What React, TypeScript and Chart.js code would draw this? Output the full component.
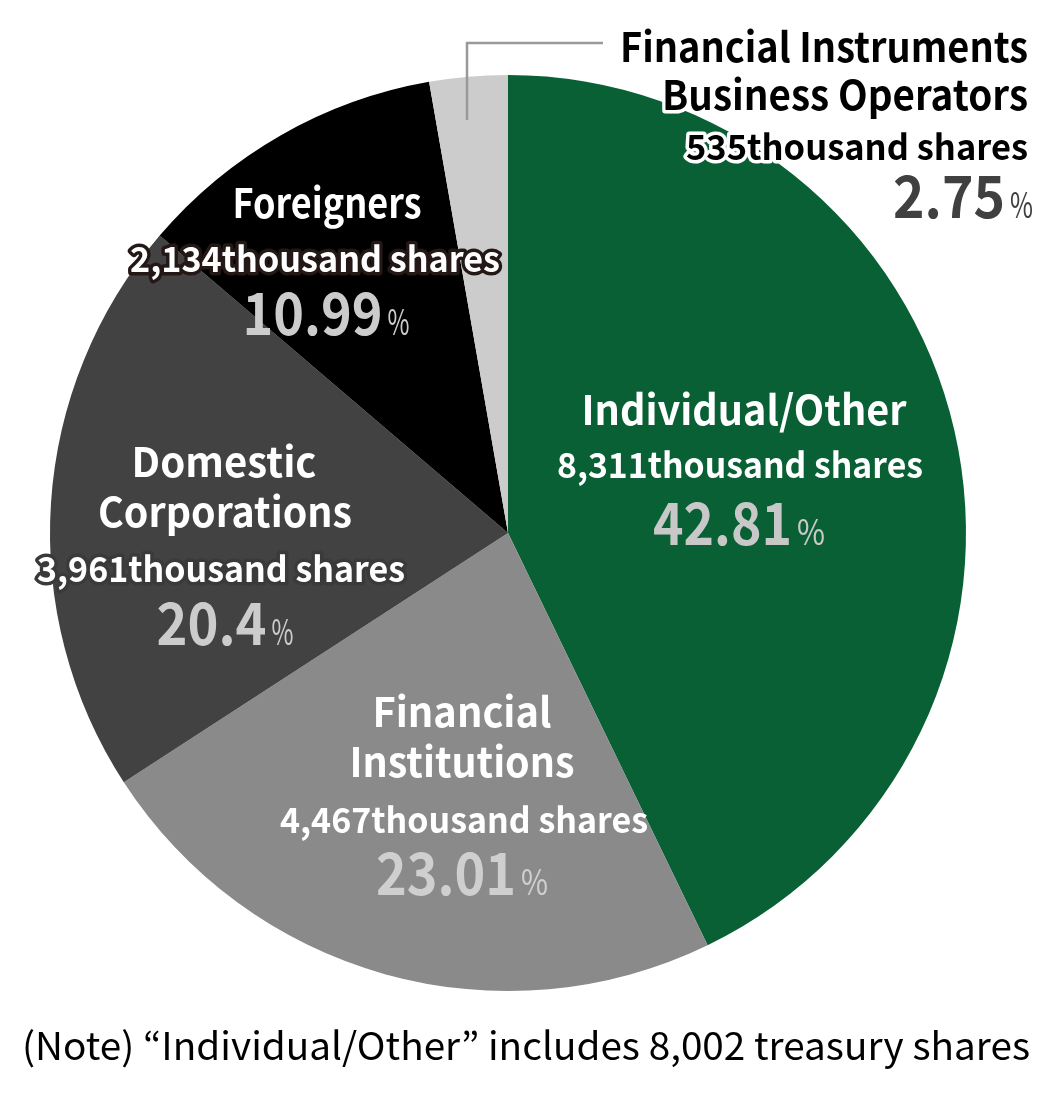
import { useEffect, useRef } from 'react';
import { Chart, registerables } from 'chart.js';
Chart.register(...registerables);

const categories = ['Individual/Other', 'Financial Institutions', 'Domestic Corporations', 'Foreigners', 'Financial Instruments Business Operators'];
const nameLines = [['Individual/Other'], ['Financial', 'Institutions'], ['Domestic', 'Corporations'], ['Foreigners'], ['Financial Instruments', 'Business Operators']];
const sharesThousand = [8311, 4467, 3961, 2134, 535];
const percentLabels = ['42.81', '23.01', '20.4', '10.99', '2.75'];
const sliceColors = ['#0a6035', '#8a8a8a', '#424242', '#000000', '#cccccc'];
const noteText = '(Note) \u201CIndividual/Other\u201D includes 8,002 treasury shares';

const FONT = '"Noto Sans CJK JP", "Noto Sans", sans-serif';

type LineSpec = { dx: number; dy: number; w: number };
type LabelSpec = {
  align: 'center' | 'right';
  names: LineSpec[];
  shares: LineSpec;
  pct: { dx: number; dy: number; wn: number; wp: number };
  nameWeight: string;
  nameColor: string;
  nameStroke?: string;
  sharesColor: string;
  sharesStroke?: string;
  pctColor: string;
};

const labelSpecs: LabelSpec[] = [
  {
    align: 'center',
    names: [{ dx: 236, dy: -108, w: 325 }],
    shares: { dx: 232, dy: -55, w: 366 },
    pct: { dx: 231, dy: 12, wn: 139, wp: 28 },
    nameWeight: '600',
    nameColor: '#ffffff', sharesColor: '#ffffff', pctColor: '#c8c8c8',
  },
  {
    align: 'center',
    names: [{ dx: -46, dy: 194, w: 179 }, { dx: -46, dy: 244, w: 225 }],
    shares: { dx: -44, dy: 300, w: 368 },
    pct: { dx: -46, dy: 362, wn: 140, wp: 27 },
    nameWeight: '600',
    nameColor: '#ffffff', sharesColor: '#ffffff', pctColor: '#cfcfcf',
  },
  {
    align: 'center',
    names: [{ dx: -284, dy: -56, w: 185 }, { dx: -283, dy: -6, w: 254 }],
    shares: { dx: -287, dy: 49, w: 368 },
    pct: { dx: -283, dy: 112, wn: 110, wp: 22 },
    nameWeight: '600',
    nameColor: '#ffffff', sharesColor: '#ffffff', sharesStroke: '#3a3a3a', pctColor: '#cccccc',
  },
  {
    align: 'center',
    names: [{ dx: -181, dy: -315, w: 189 }],
    shares: { dx: -193, dy: -261, w: 370 },
    pct: { dx: -182, dy: -198, wn: 140, wp: 22 },
    nameWeight: '600',
    nameColor: '#ffffff', sharesColor: '#ffffff', sharesStroke: '#231815', pctColor: '#cccccc',
  },
  {
    align: 'right',
    names: [{ dx: 520, dy: -471, w: 408 }, { dx: 520, dy: -423, w: 366 }],
    shares: { dx: 520, dy: -373, w: 342 },
    pct: { dx: 525, dy: -315, wn: 112, wp: 23 },
    nameWeight: 'bold',
    nameColor: '#000000', nameStroke: '#ffffff', sharesColor: '#000000', sharesStroke: '#ffffff', pctColor: '#404040',
  },
];

function fitText(ctx: CanvasRenderingContext2D, text: string, x: number, y: number, targetW: number, align: CanvasTextAlign, fill: string, stroke?: string, strokeW = 6) {
  const w = ctx.measureText(text).width;
  const s = targetW / w;
  ctx.save();
  ctx.translate(x, y);
  ctx.scale(s, 1);
  ctx.textAlign = align;
  ctx.textBaseline = 'alphabetic';
  if (stroke) {
    ctx.strokeStyle = stroke;
    ctx.lineWidth = strokeW;
    ctx.lineJoin = 'round';
    ctx.strokeText(text, 0, 0);
  }
  ctx.fillStyle = fill;
  ctx.fillText(text, 0, 0);
  ctx.restore();
}

const labelPlugin = {
  id: 'shareLabels',
  afterDraw(chart: any) {
    const ctx: CanvasRenderingContext2D = chart.ctx;
    const arc = chart.getDatasetMeta(0).data[0];
    const cx = arc.x;
    const cy = arc.y;
    ctx.save();
    // leader line for the small slice
    ctx.strokeStyle = '#999999';
    ctx.lineWidth = 2.5;
    ctx.beginPath();
    ctx.moveTo(cx - 41, cy - 413);
    ctx.lineTo(cx - 41, cy - 490);
    ctx.lineTo(cx + 95, cy - 490);
    ctx.stroke();

    labelSpecs.forEach((spec, i) => {
      nameLines[i].forEach((line, j) => {
        const l = spec.names[j];
        ctx.font = `${spec.nameWeight} 41px ${FONT}`;
        fitText(ctx, line, cx + l.dx, cy + l.dy, l.w, spec.align, spec.nameColor, spec.nameStroke, 7);
      });
      const sh = spec.shares;
      ctx.font = `${spec.align === 'right' ? 'bold' : '600'} 35px ${FONT}`;
      fitText(ctx, `${sharesThousand[i].toLocaleString('en-US')}thousand shares`, cx + sh.dx, cy + sh.dy, sh.w, spec.align, spec.sharesColor, spec.sharesStroke, 7);
      const p = spec.pct;
      const gap = 5;
      const total = p.wn + gap + p.wp;
      const left = spec.align === 'right' ? cx + p.dx - total : cx + p.dx - total / 2;
      ctx.font = `600 58px ${FONT}`;
      fitText(ctx, percentLabels[i], left, cy + p.dy, p.wn, 'left', spec.pctColor);
      ctx.font = `400 36px ${FONT}`;
      fitText(ctx, '%', left + p.wn + gap, cy + p.dy, p.wp, 'left', spec.pctColor);
    });

    ctx.font = `38px ${FONT}`;
    fitText(ctx, noteText, chart.width / 2 + 1, 1060, 1008, 'center', '#000000');
    ctx.restore();
  },
};

export default function App() {
  const ref = useRef<HTMLCanvasElement>(null);
  useEffect(() => {
    document.body.style.margin = '0';
    const chart = new Chart(ref.current!, {
      type: 'pie',
      data: {
        labels: categories,
        datasets: [{ data: sharesThousand, backgroundColor: sliceColors, borderWidth: 0 }],
      },
      options: {
        animation: false,
        responsive: false,
        layout: { padding: { left: 50, right: 84, top: 75, bottom: 104 } },
        plugins: { legend: { display: false }, tooltip: { enabled: false } },
      },
      plugins: [labelPlugin],
    });
    return () => chart.destroy();
  }, []);
  return <canvas ref={ref} width={1050} height={1095} style={{ display: 'block' }} />;
}
